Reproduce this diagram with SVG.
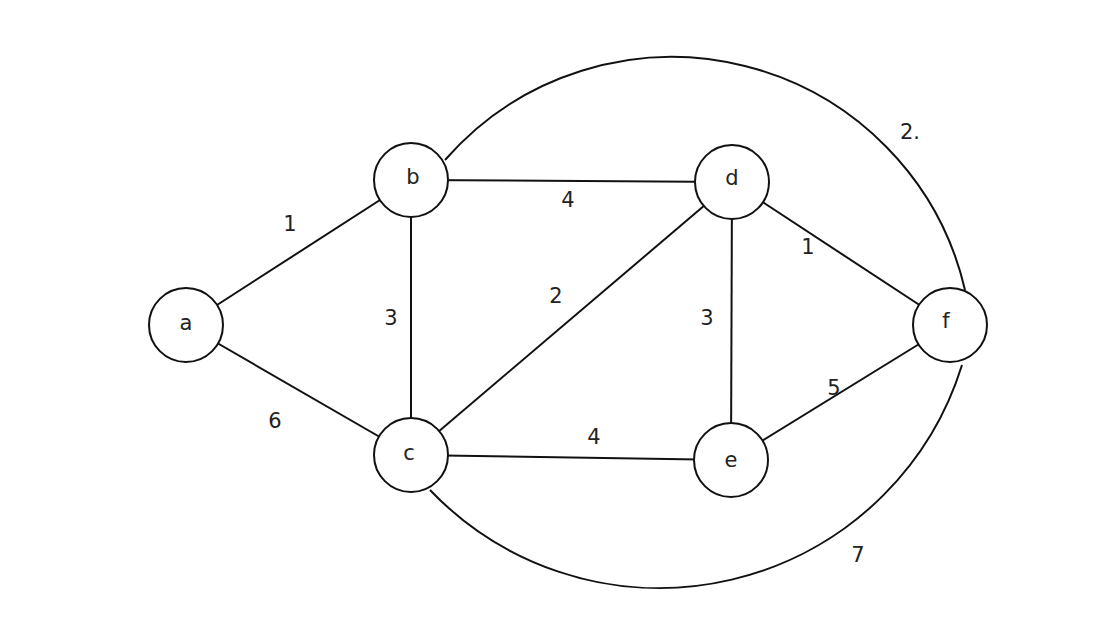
<svg xmlns="http://www.w3.org/2000/svg" width="1114" height="620" viewBox="0 0 1114 620">
<style>
.n circle{fill:#fff;stroke:#111;stroke-width:2}
text{font-family:"DejaVu Sans",sans-serif;font-size:21px;fill:#222;text-anchor:middle;dominant-baseline:central}
.e{stroke:#111;stroke-width:2;fill:none}
</style>
<rect width="1114" height="620" fill="#fff"/>
<g id="connectors">
<line class="e" x1="186" y1="325" x2="411" y2="180"/>
<line class="e" x1="186" y1="325" x2="411" y2="455"/>
<line class="e" x1="411" y1="180" x2="732" y2="182"/>
<line class="e" x1="411" y1="180" x2="411" y2="455"/>
<line class="e" x1="411" y1="455" x2="732" y2="182"/>
<line class="e" x1="411" y1="455" x2="731" y2="460"/>
<line class="e" x1="732" y1="182" x2="731" y2="460"/>
<line class="e" x1="732" y1="182" x2="950" y2="325"/>
<line class="e" x1="731" y1="460" x2="950" y2="325"/>
<path class="e" d="M445,160 A301,301 0 0 1 965,290"/>
<path class="e" d="M430,490 A317,317 0 0 0 962,365"/>
<text x="290" y="224">1</text>
<text x="275" y="421">6</text>
<text x="391" y="318">3</text>
<text x="568" y="200">4</text>
<text x="556" y="296">2</text>
<text x="707" y="318">3</text>
<text x="808" y="247">1</text>
<text x="834" y="388">5</text>
<text x="594" y="437">4</text>
<text x="910" y="132">2.</text>
<text x="858" y="555">7</text>
</g>
<g id="a" class="n"><circle cx="186" cy="325" r="37"/><text x="186" y="323">a</text></g>
<g id="b" class="n"><circle cx="411" cy="180" r="37"/><text x="413" y="177">b</text></g>
<g id="c" class="n"><circle cx="411" cy="455" r="37"/><text x="409" y="453">c</text></g>
<g id="d" class="n"><circle cx="732" cy="182" r="37"/><text x="732" y="178">d</text></g>
<g id="e" class="n"><circle cx="731" cy="460" r="37"/><text x="731" y="460">e</text></g>
<g id="f" class="n"><circle cx="950" cy="325" r="37"/><text x="946" y="321">f</text></g>
</svg>
